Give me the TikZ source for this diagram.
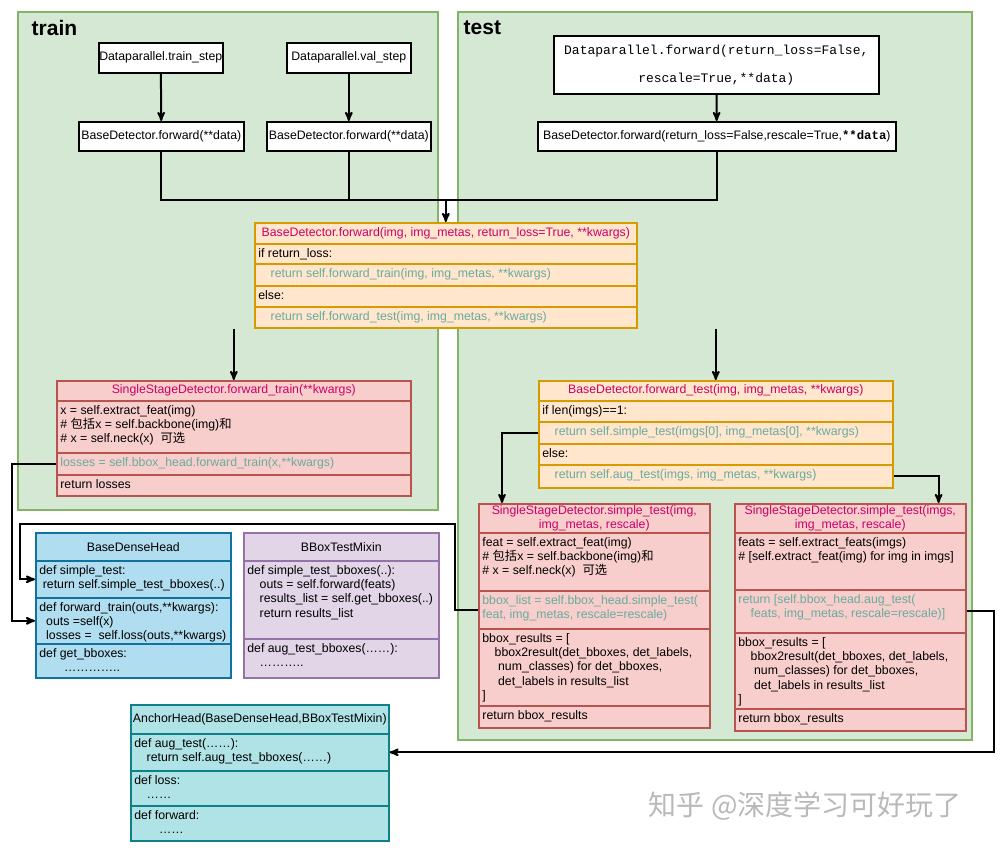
\documentclass[tikz,border=0pt]{standalone}
\usepackage{fontspec}
\setmainfont{Liberation Sans}
\newfontfamily\cjk{Noto Sans CJK SC}
\newfontfamily\mono{Liberation Mono}
\usepackage{xcolor}
\usetikzlibrary{arrows, positioning, calc}

\definecolor{panelfill}{HTML}{D5E8D4}
\definecolor{paneldraw}{HTML}{82B366}
\definecolor{orfill}{HTML}{FFE6CC}
\definecolor{ordraw}{HTML}{D79B00}
\definecolor{pkfill}{HTML}{F8CECC}
\definecolor{pkdraw}{HTML}{B85450}
\definecolor{blfill}{HTML}{B1DDF0}
\definecolor{bldraw}{HTML}{10739E}
\definecolor{pufill}{HTML}{E1D5E7}
\definecolor{pudraw}{HTML}{9673A6}
\definecolor{cyfill}{HTML}{B0E3E6}
\definecolor{cydraw}{HTML}{0E8088}
\definecolor{hdrtext}{HTML}{CC0066}
\definecolor{calltext}{HTML}{67AB9F}

% left aligned row: name, x, y, w, h, style, text
\newcommand\row[7]{%
  \node[box, #6, anchor=north west, minimum width=#4pt, minimum height=#5pt] (#1) at (#2,#3) {};
  \node[anchor=north west, align=left, inner sep=0pt, xshift=4pt, yshift=-5pt] (#1t) at (#1.north west) {#7};}
% centered row
\newcommand\hdr[7]{%
  \node[box, #6, anchor=north west, minimum width=#4pt, minimum height=#5pt, align=center] (#1) at (#2,#3) {#7};}

\begin{document}
\begin{tikzpicture}[x=1pt, y=-1pt, >=stealth', thick,
  font=\fontsize{12.3}{14.3}\selectfont]
  \tikzset{box/.style={rectangle, draw, inner sep=0pt, line width=1.6pt},
    panel/.style={draw=paneldraw, fill=panelfill, line width=1.8pt},
    plain/.style={fill=white, draw=black},
    ors/.style={fill=orfill, draw=ordraw},
    pks/.style={fill=pkfill, draw=pkdraw},
    bls/.style={fill=blfill, draw=bldraw},
    pus/.style={fill=pufill, draw=pudraw},
    cys/.style={fill=cyfill, draw=cydraw},
    wire/.style={line width=2pt},
    link/.style={->, line width=2pt}}
  \useasboundingbox (0,0) rectangle (1004,849);
  \fill[white] (0,0) rectangle (1004,849);

  % panels
  \draw[panel] (18,12) rectangle (438,510);
  \draw[panel] (458,12) rectangle (972,740);
  \node[anchor=north west, font=\bfseries\fontsize{21}{24}\selectfont] (trainlbl) at (28,17) {train};
  \node[anchor=north west, font=\bfseries\fontsize{21}{24}\selectfont] (testlbl) at (460,17) {test};

  % train entry
  \hdr{trstep}{98}{42}{124}{30}{plain}{Dataparallel.train\_step}
  \hdr{valstep}{286}{42}{124}{30}{plain}{Dataparallel.val\_step}
  \hdr{trfwd}{78}{121}{165}{29}{plain}{BaseDetector.forward(**data)}
  \hdr{valfwd}{266}{121}{164}{29}{plain}{BaseDetector.forward(**data)}

  % test entry
  \hdr{tsfwd}{553}{35}{325}{58}{plain}{\mono\fontsize{13}{15}\selectfont Dataparallel.forward(return\_loss=False,\\[14pt]\mono\fontsize{13}{15}\selectfont rescale=True,**data)}
  \hdr{tsdet}{537}{121}{358}{29}{plain}{BaseDetector.forward(return\_loss=False,rescale=True,{\mono\bfseries **data})}

  % BaseDetector.forward
  \hdr{dhead}{254}{222}{382}{21}{ors}{\color{hdrtext}BaseDetector.forward(img, img\_metas, return\_loss=True, **kwargs)}
  \row{dif}{254}{243}{382}{20}{ors}{if return\_loss:}
  \row{dtr}{254}{263}{382}{22}{ors}{\color{calltext}\quad return self.forward\_train(img, img\_metas, **kwargs)}
  \row{delse}{254}{285}{382}{21}{ors}{else:}
  \row{dts}{254}{306}{382}{21}{ors}{\color{calltext}\quad return self.forward\_test(img, img\_metas, **kwargs)}

  % forward_train
  \hdr{fthead}{56}{380}{354}{20}{pks}{\color{hdrtext}SingleStageDetector.forward\_train(**kwargs)}
  \row{ftbody}{56}{400}{354}{52}{pks}{x = self.extract\_feat(img)\\\# {\cjk 包括}x = self.backbone(img){\cjk 和}\\\# x = self.neck(x)\ \ {\cjk 可选}}
  \row{ftloss}{56}{452}{354}{22}{pks}{\color{calltext}losses = self.bbox\_head.forward\_train(x,**kwargs)}
  \row{ftret}{56}{474}{354}{21}{pks}{return losses}

  % forward_test
  \hdr{fshead}{538}{380}{354}{20}{ors}{\color{hdrtext}BaseDetector.forward\_test(img, img\_metas, **kwargs)}
  \row{fsif}{538}{400}{354}{21}{ors}{if len(imgs)==1:}
  \row{fssim}{538}{421}{354}{22}{ors}{\color{calltext}\quad return self.simple\_test(imgs[0], img\_metas[0], **kwargs)}
  \row{fselse}{538}{443}{354}{21}{ors}{else:}
  \row{fsaug}{538}{464}{354}{23}{ors}{\color{calltext}\quad return self.aug\_test(imgs, img\_metas, **kwargs)}

  % simple_test
  \hdr{sthead}{478}{503}{231}{29}{pks}{\color{hdrtext}SingleStageDetector.simple\_test(img,\\\color{hdrtext}img\_metas, rescale)}
  \row{stbody}{478}{532}{231}{58}{pks}{feat = self.extract\_feat(img)\\\# {\cjk 包括}x = self.backbone(img){\cjk 和}\\\# x = self.neck(x)\ \ {\cjk 可选}}
  \row{stcall}{478}{590}{231}{38}{pks}{\color{calltext}bbox\_list = self.bbox\_head.simple\_test(\\\color{calltext}feat, img\_metas, rescale=rescale)}
  \row{stres}{478}{628}{231}{77}{pks}{bbox\_results = [\\\quad bbox2result(det\_bboxes, det\_labels,\\\quad\ num\_classes) for det\_bboxes,\\\quad\ det\_labels in results\_list\\]}
  \row{stret}{478}{705}{231}{22}{pks}{return bbox\_results}

  % aug_test
  \hdr{athead}{734}{503}{231}{29}{pks}{\color{hdrtext}SingleStageDetector.simple\_test(imgs,\\\color{hdrtext}img\_metas, rescale)}
  \row{atbody}{734}{532}{231}{57}{pks}{feats = self.extract\_feats(imgs)\\\# [self.extract\_feat(img) for img in imgs]}
  \row{atcall}{734}{589}{231}{43}{pks}{\color{calltext}return [self.bbox\_head.aug\_test(\\\color{calltext}\quad feats, img\_metas, rescale=rescale)]}
  \row{atres}{734}{632}{231}{76}{pks}{bbox\_results = [\\\quad bbox2result(det\_bboxes, det\_labels,\\\quad\ num\_classes) for det\_bboxes,\\\quad\ det\_labels in results\_list\\]}
  \row{atret}{734}{708}{231}{22}{pks}{return bbox\_results}

  % BaseDenseHead
  \hdr{bdhead}{35}{532}{195}{28}{bls}{BaseDenseHead}
  \row{bdsim}{35}{560}{195}{37}{bls}{def simple\_test:\\\ return self.simple\_test\_bboxes(..)}
  \row{bdtrain}{35}{597}{195}{46}{bls}{def forward\_train(outs,**kwargs):\\\ \ outs =self(x)\\\ \ losses = \ self.loss(outs,**kwargs)}
  \row{bdget}{35}{643}{195}{34}{bls}{def get\_bboxes:\\\qquad\ldots\ldots\ldots\ldots..}

  % BBoxTestMixin
  \hdr{mxhead}{243}{532}{195}{28}{pus}{BBoxTestMixin}
  \row{mxsim}{243}{560}{195}{78}{pus}{def simple\_test\_bboxes(..):\\\quad outs = self.forward(feats)\\\quad results\_list = self.get\_bboxes(..)\\\quad return results\_list}
  \row{mxaug}{243}{638}{195}{39}{pus}{def aug\_test\_bboxes(\ldots\ldots):\\\quad\ldots\ldots\ldots..}

  % AnchorHead
  \hdr{ahhead}{130}{704}{258}{29}{cys}{AnchorHead(BaseDenseHead,BBoxTestMixin)}
  \row{ahaug}{130}{733}{258}{37}{cys}{def aug\_test(\ldots\ldots):\\\quad return self.aug\_test\_bboxes(\ldots\ldots)}
  \row{ahloss}{130}{770}{258}{35}{cys}{def loss:\\\quad\ldots\ldots}
  \row{ahfwd}{130}{805}{258}{35}{cys}{def forward:\\\qquad\ldots\ldots}

  % connectors
  \coordinate (merge) at (dhead.north |- 0,200);
  \draw[link] (trstep) -- (trfwd);
  \draw[link] (valstep) -- (valfwd);
  \draw[link] (tsfwd) -- (tsdet);
  \draw[wire] (trfwd.south) |- (merge);
  \draw[wire] (valfwd.south) |- (merge);
  \draw[wire] (tsdet.south) |- (merge);
  \draw[link] (merge) -- (dhead.north);
  \draw[link] (dts.south -| fthead.north) -- (fthead.north);
  \draw[link] (dts.south -| fshead.north) -- (fshead.north);
  \draw[link] (fssim.west) -| ($(sthead.north west)+(24,0)$);
  \draw[link] (fsaug.east) -| ($(athead.north east)+(-28,0)$);
  \draw[link] (ftloss.west) -- ++(-44,0) |- (bdtrain.west);
  \draw[link] (stcall.west) -- ++(-23,0) |- (20,524) |- (bdsim.west);
  \draw[link] (atcall.east) -- ++(27,0) |- (ahaug.east);

  % watermark
  \node[anchor=west, text=gray!55, font=\cjk\fontsize{28}{32}\selectfont] (mark) at (645,806) {知乎 @深度学习可好玩了};
\end{tikzpicture}
\end{document}
